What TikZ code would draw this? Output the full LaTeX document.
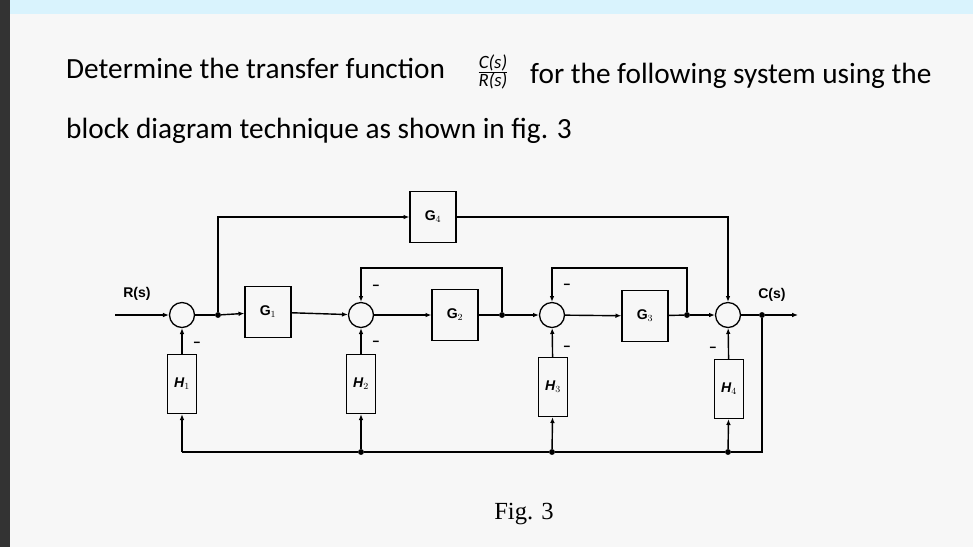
\documentclass[tikz,border=0pt]{standalone}
\usepackage{fontspec}
\setmainfont{Carlito}
\newfontfamily\serifn{Liberation Serif}
\newfontfamily\sansn{Liberation Sans}
\usetikzlibrary{arrows.meta}
\begin{document}
\begin{tikzpicture}[x=0.03cm,y=-0.03cm,
  blk/.style={draw,line width=1.1pt,inner sep=0pt,font=\sansn\bfseries\fontsize{12}{13}\selectfont},
  sumn/.style={draw,circle,line width=1.1pt,minimum size=0.75cm,inner sep=0pt},
  dotn/.style={circle,fill,inner sep=0pt,minimum size=5pt},
  ln/.style={line width=1.2pt},
  ar/.style={ln,-{Latex[length=5pt,width=4pt]}},
  mn/.style={font=\bfseries\fontsize{14}{14}\selectfont},
  ttl/.style={anchor=base west,inner sep=0pt,font=\fontsize{25}{28}\selectfont}]
\useasboundingbox (0,0) rectangle (973,547);
\fill[black!80] (0,0) rectangle (10,547);
\fill[cyan!15] (10,0) rectangle (973,14);
\fill[gray!6] (10,14) rectangle (973,547);
% title
\node[ttl] (t1) at (66,78) {Determine the transfer function};
\node[ttl] (t2) at (530,83) {for the following system using the};
\node[ttl] (t3) at (66,138) {block diagram technique as shown in fig. 3};
\node[inner sep=1pt] (fr) at (493,72) {\fontsize{16}{18}\selectfont$\frac{\textit{C(s)}}{\textit{R(s)}}$};
\node[font=\serifn\fontsize{21}{24}\selectfont] (fig) at (524,514) {Fig. 3};
% blocks
\node[sumn] (s1) at (182,315) {};
\node[sumn] (s2) at (361,315) {};
\node[sumn] (s3) at (552,315) {};
\node[sumn] (s4) at (728,315) {};
\node[blk,minimum width=1.38cm,minimum height=1.53cm] (g1) at (268,312) {G$_1$};
\node[blk,minimum width=1.38cm,minimum height=1.53cm] (g2) at (455,315) {G$_2$};
\node[blk,minimum width=1.38cm,minimum height=1.53cm] (g3) at (645,316) {G$_3$};
\node[blk,minimum width=1.38cm,minimum height=1.53cm] (g4) at (433,217) {G$_4$};
\node[blk,minimum width=0.85cm,minimum height=1.77cm] (h1) at (182,384) {\itshape H$_1$};
\node[blk,minimum width=0.85cm,minimum height=1.77cm] (h2) at (361,384) {\itshape H$_2$};
\node[blk,minimum width=0.85cm,minimum height=1.77cm] (h3) at (553,387) {\itshape H$_3$};
\node[blk,minimum width=0.85cm,minimum height=1.77cm] (h4) at (729,389) {\itshape H$_4$};
\coordinate (in) at (115,315);
\node[dotn] (b1) at (218,315) {};
\node[dotn] (b2) at (502,315) {};
\node[dotn] (b3) at (687,315) {};
\node[dotn] (b4) at (762,315) {};
\coordinate (out) at (798,315);
\node[dotn] (d2) at (361,452) {};
\node[dotn] (d3) at (552,452) {};
\node[dotn] (d4) at (728,452) {};
\node[font=\sansn\bfseries\fontsize{12}{13}\selectfont] (rl) at (137,294) {R(s)};
\node[font=\sansn\bfseries\fontsize{12}{13}\selectfont] (cl) at (772,295) {C(s)};
% forward path
\draw[ar] (in) -- (s1);
\draw[ln] (s1) -- (b1);
\draw[ar] (b1) -- (g1);
\draw[ar] (g1) -- (s2);
\draw[ar] (s2) -- (g2);
\draw[ln] (g2) -- (b2);
\draw[ar] (b2) -- (s3);
\draw[ar] (s3) -- (g3);
\draw[ln] (g3) -- (b3);
\draw[ar] (b3) -- (s4);
\draw[ln] (s4) -- (b4);
\draw[ar] (b4) -- (out);
% G4 path
\draw[ar] (b1) |- (g4);
\draw[ar] (g4) -| (s4);
% local loops
\draw[ar] (b2) |- (361,268) -- (s2);
\draw[ar] (b3) |- (552,268) -- (s3);
% bottom feedback
\draw[ln] (b4) |- (d4) -- (d3) -- (d2) -- (182,452);
\draw[ar] (182,452) -- (h1);
\draw[ar] (d2) -- (h2);
\draw[ar] (d3) -- (h3);
\draw[ar] (d4) -- (h4);
\draw[ar] (h1) -- (s1);
\draw[ar] (h2) -- (s2);
\draw[ar] (h3) -- (s3);
\draw[ar] (h4) -- (s4);
% minus signs
\node[mn] (m1) at (197,345) {–};
\node[mn] (m2) at (376,344) {–};
\node[mn] (m3) at (376,288) {–};
\node[mn] (m4) at (567,287) {–};
\node[mn] (m5) at (567,349) {–};
\node[mn] (m6) at (713,350) {–};
\end{tikzpicture}
\end{document}
